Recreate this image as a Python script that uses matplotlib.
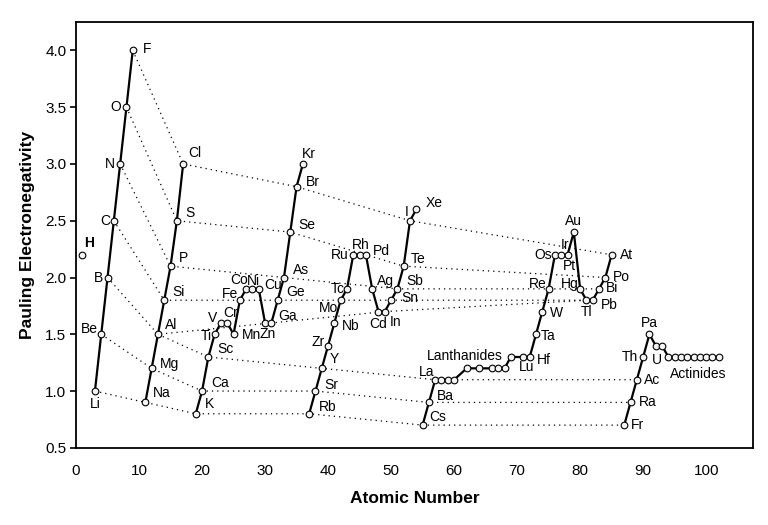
import matplotlib
matplotlib.use("Agg")
import matplotlib.pyplot as plt

plt.rcParams['font.family'] = ['Liberation Sans', 'DejaVu Sans']

# Pauling electronegativity, rounded to one decimal, grouped by period
h_z = [1]
h_en = [2.2]
h_sym = ["H"]

p2_z = [3, 4, 5, 6, 7, 8, 9]
p2_en = [1.0, 1.5, 2.0, 2.5, 3.0, 3.5, 4.0]
p2_sym = ["Li", "Be", "B", "C", "N", "O", "F"]

p3_z = [11, 12, 13, 14, 15, 16, 17]
p3_en = [0.9, 1.2, 1.5, 1.8, 2.1, 2.5, 3.0]
p3_sym = ["Na", "Mg", "Al", "Si", "P", "S", "Cl"]

p4_z = list(range(19, 37))
p4_en = [0.8, 1.0, 1.3, 1.5, 1.6, 1.6, 1.5, 1.8, 1.9, 1.9, 1.9, 1.6, 1.6, 1.8, 2.0, 2.4, 2.8, 3.0]
p4_sym = ["K", "Ca", "Sc", "Ti", "V", "Cr", "Mn", "Fe", "Co", "Ni", "Cu", "Zn",
          "Ga", "Ge", "As", "Se", "Br", "Kr"]

p5_z = list(range(37, 55))
p5_en = [0.8, 1.0, 1.2, 1.4, 1.6, 1.8, 1.9, 2.2, 2.2, 2.2, 1.9, 1.7, 1.7, 1.8, 1.9, 2.1, 2.5, 2.6]
p5_sym = ["Rb", "Sr", "Y", "Zr", "Nb", "Mo", "Tc", "Ru", "Rh", "Pd", "Ag", "Cd",
          "In", "Sn", "Sb", "Te", "I", "Xe"]

p6_z = [55, 56, 57, 58, 59, 60, 62, 64, 66, 67, 68, 69, 71, 72, 73, 74, 75, 76, 77, 78,
        79, 80, 81, 82, 83, 84, 85]
p6_en = [0.7, 0.9, 1.1, 1.1, 1.1, 1.1, 1.2, 1.2, 1.2, 1.2, 1.2, 1.3, 1.3, 1.3, 1.5, 1.7,
         1.9, 2.2, 2.2, 2.2, 2.4, 1.9, 1.8, 1.8, 1.9, 2.0, 2.2]
p6_sym = ["Cs", "Ba", "La", "Ce", "Pr", "Nd", "Sm", "Gd", "Dy", "Ho", "Er", "Tm", "Lu",
          "Hf", "Ta", "W", "Re", "Os", "Ir", "Pt", "Au", "Hg", "Tl", "Pb", "Bi", "Po", "At"]

p7_z = list(range(87, 103))
p7_en = [0.7, 0.9, 1.1, 1.3, 1.5, 1.4, 1.4, 1.3, 1.3, 1.3, 1.3, 1.3, 1.3, 1.3, 1.3, 1.3]
p7_sym = ["Fr", "Ra", "Ac", "Th", "Pa", "U", "Np", "Pu", "Am", "Cm", "Bk", "Cf", "Es",
          "Fm", "Md", "No"]

# dotted group connections
groups = [
    ["Li", "Na", "K", "Rb", "Cs", "Fr"],
    ["Be", "Mg", "Ca", "Sr", "Ba", "Ra"],
    ["B", "Al", "Ga", "In", "Tl"],
    ["Al", "Sc", "Y", "La", "Ac"],
    ["C", "Si", "Ge", "Sn", "Pb"],
    ["N", "P", "As", "Sb", "Bi"],
    ["O", "S", "Se", "Te", "Po"],
    ["F", "Cl", "Br", "I", "At"],
]

periods = [(p2_z, p2_en, p2_sym), (p3_z, p3_en, p3_sym), (p4_z, p4_en, p4_sym),
           (p5_z, p5_en, p5_sym), (p6_z, p6_en, p6_sym), (p7_z, p7_en, p7_sym)]

lookup = {}
for zs, ens, syms in periods + [(h_z, h_en, h_sym)]:
    for z, e, s in zip(zs, ens, syms):
        lookup[s] = (z, e)

# label placement: (dx, dy, ha) in pixels from the marker
lbl = {
    "H": (7, 12, "center"), "Li": (0, -13, "center"), "Be": (-3, 5, "right"),
    "B": (-4, 0, "right"), "C": (-4, 0, "right"), "N": (-5, 0, "right"),
    "O": (-5, 0, "right"), "F": (10, 1, "left"),
    "Na": (8, 9, "left"), "Mg": (8, 4, "left"), "Al": (7, 9, "left"),
    "Si": (8, 8, "left"), "P": (8, 8, "left"), "S": (8, 8, "left"), "Cl": (5, 11, "left"),
    "K": (9, 10, "left"), "Ca": (9, 8, "left"), "Sc": (9, 8, "left"),
    "Ti": (-3, -2, "right"), "V": (-4, 5, "right"), "Cr": (3, 10, "center"),
    "Mn": (8, -1, "left"), "Fe": (-2, 6, "right"), "Co": (-7, 9, "center"),
    "Ni": (1, 8, "center"), "Cu": (5, 4, "left"), "Zn": (3, -11, "center"),
    "Ga": (7, 7, "left"), "Ge": (9, 8, "left"), "As": (9, 8, "left"),
    "Se": (8, 7, "left"), "Br": (9, 5, "left"), "Kr": (-1, 10, "left"),
    "Rb": (10, 7, "left"), "Sr": (9, 6, "left"), "Y": (8, 9, "left"),
    "Zr": (-3, 4, "right"), "Nb": (7, -3, "left"), "Mo": (-3, -8, "right"),
    "Tc": (-2, 0, "right"), "Ru": (-5, 0, "right"), "Rh": (1, 10, "center"),
    "Pd": (7, 4, "left"), "Ag": (5, 8, "left"), "Cd": (0, -12, "center"),
    "In": (5, -10, "left"), "Sn": (10, 2, "left"), "Sb": (9, 8, "left"),
    "Te": (7, 7, "left"), "I": (-3, 9, "center"), "Xe": (9, 6, "left"),
    "Cs": (7, 8, "left"), "Ba": (8, 6, "left"), "La": (-1, 8, "right"),
    "Lu": (3, -10, "center"), "Hf": (7, -3, "left"), "Ta": (5, -2, "left"),
    "W": (8, -1, "left"), "Re": (-2, 5, "right"), "Os": (-3, 0, "right"),
    "Ir": (4, 10, "center"), "Pt": (2, -11, "center"), "Au": (0, 11, "center"),
    "Hg": (-2, 5, "right"), "Tl": (0, -12, "center"), "Pb": (8, -5, "left"),
    "Bi": (7, 1, "left"), "Po": (8, 1, "left"), "At": (8, 0, "left"),
    "Fr": (7, 0, "left"), "Ra": (8, 0, "left"), "Ac": (7, 0, "left"),
    "Th": (-5, 0, "right"), "Pa": (0, 11, "center"), "U": (1, -14, "center"),
}

fig = plt.figure(figsize=(7.68, 5.25), dpi=100)
ax = fig.add_axes([0.099, 0.147, 0.882, 0.811])

for g in groups:
    xs = [lookup[s][0] for s in g]
    ys = [lookup[s][1] for s in g]
    ax.plot(xs, ys, color='black', lw=0.9, linestyle=(0, (1, 3.2)), zorder=1)

for zs, ens, syms in periods:
    ax.plot(zs, ens, color='black', lw=1.6, zorder=2)
    ax.plot(zs, ens, 'o', ms=4.8, mfc='#f4f4f4', mec='black', mew=0.8, zorder=3)
ax.plot(h_z, h_en, 'o', ms=4.8, mfc='#f4f4f4', mec='black', mew=0.8, zorder=3)

for s, (dx, dy, ha) in lbl.items():
    z, e = lookup[s]
    ax.annotate(s, (z, e), xytext=(dx, dy), textcoords='offset pixels',
                ha=ha, va='center', fontsize=10,
                fontweight='bold' if s == "H" else 'normal', zorder=4)

ax.annotate("Lanthanides", lookup["Gd"], xytext=(-14, 12), textcoords='offset pixels',
            ha='center', va='center', fontsize=10)
ax.annotate("Actinides", lookup["Bk"], xytext=(11, -17), textcoords='offset pixels',
            ha='center', va='center', fontsize=10)

ax.set_xlim(0, 107.5)
ax.set_ylim(0.5, 4.25)
ax.set_xticks(range(0, 101, 10))
ax.set_yticks([0.5, 1.0, 1.5, 2.0, 2.5, 3.0, 3.5, 4.0])
ax.set_yticklabels(["0.5", "1.0", "1.5", "2.0", "2.5", "3.0", "3.5", "4.0"])
ax.tick_params(axis='x', length=0, pad=12, labelsize=11)
ax.tick_params(axis='y', length=4, width=1.2, direction='out', pad=3, labelsize=11)
for sp in ax.spines.values():
    sp.set_linewidth(1.3)

ax.set_xlabel("Atomic Number", fontsize=12.5, fontweight='bold', labelpad=9)
ax.set_ylabel("Pauling Electronegativity", fontsize=12.5, fontweight='bold', labelpad=7)

fig.savefig("out.png", dpi=100)
